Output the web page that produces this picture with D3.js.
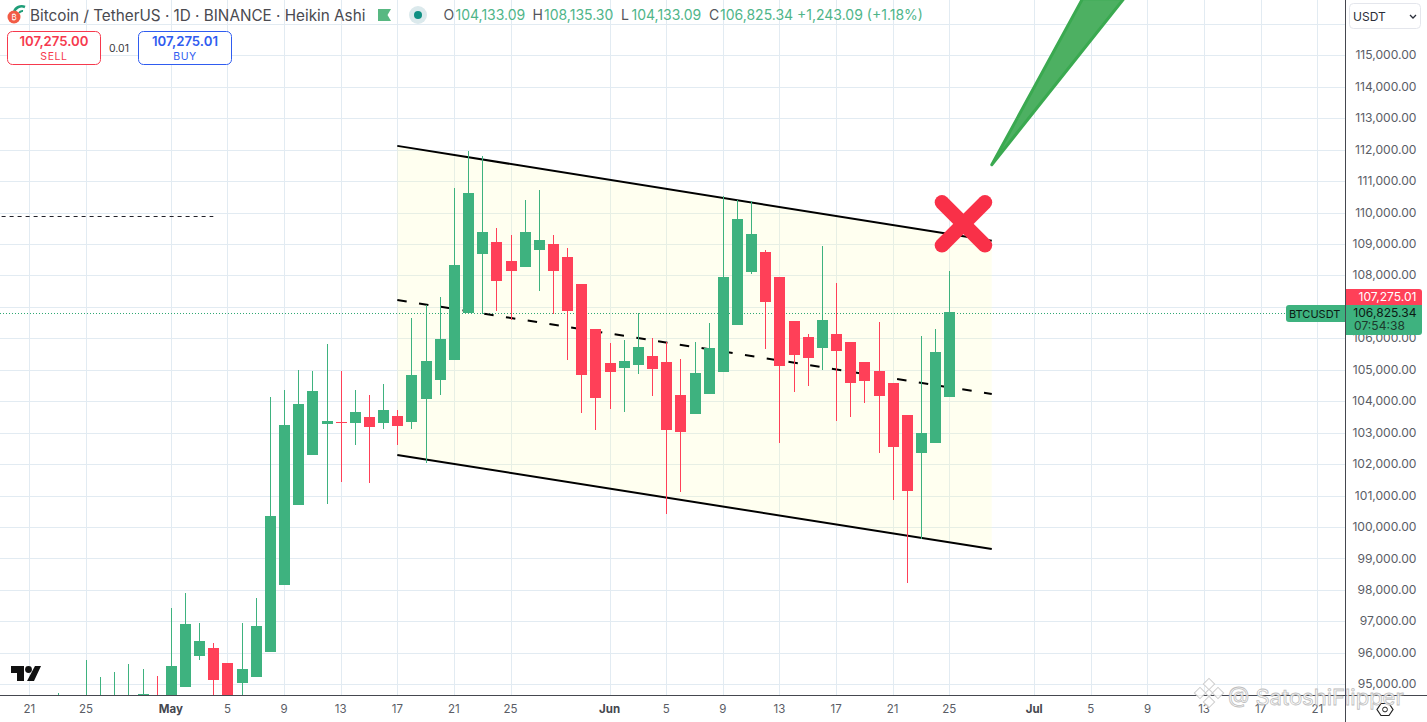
<!DOCTYPE html>
<html><head><meta charset="utf-8">
<script src="https://cdn.jsdelivr.net/npm/d3@7/dist/d3.min.js"></script>
<style>html,body{margin:0;padding:0;background:#fff;overflow:hidden}svg{display:block}text{font-family:Inter,"Noto Sans",sans-serif}</style>
</head><body><svg id="c" width="1427" height="722"></svg>
<script>
// ---- Heikin Ashi daily candles ----
const dates=["2025-04-23","2025-04-24","2025-04-25","2025-04-26","2025-04-27","2025-04-28","2025-04-29","2025-04-30",
"2025-05-01","2025-05-02","2025-05-03","2025-05-04","2025-05-05","2025-05-06","2025-05-07","2025-05-08","2025-05-09","2025-05-10","2025-05-11","2025-05-12","2025-05-13","2025-05-14","2025-05-15","2025-05-16","2025-05-17","2025-05-18","2025-05-19","2025-05-20","2025-05-21","2025-05-22","2025-05-23","2025-05-24","2025-05-25","2025-05-26","2025-05-27","2025-05-28","2025-05-29","2025-05-30","2025-05-31",
"2025-06-01","2025-06-02","2025-06-03","2025-06-04","2025-06-05","2025-06-06","2025-06-07","2025-06-08","2025-06-09","2025-06-10","2025-06-11","2025-06-12","2025-06-13","2025-06-14","2025-06-15","2025-06-16","2025-06-17","2025-06-18","2025-06-19","2025-06-20","2025-06-21","2025-06-22","2025-06-23","2025-06-24","2025-06-25"];
const opens=[93300,93600,93500,94100,94300,94400,94400,94500,
94180,94920,95900,96150,95680,95050,95230,96030,98160,100700,102290,103280,103350,103310,103500,103310,103530,103340,104070,104680,105310,106810,108680,109060,108460,108270,108810,109000,108590,107730,106300,
105220,105060,105150,105440,105250,104200,103600,104230,104930,106430,108110,108750,107950,106550,106040,105700,106140,105880,105250,104960,104580,103560,102360,102670,104133.09];
const closes=[94000,94300,94400,94600,94500,94600,94700,94300,
95580,96920,96380,95140,94600,95490,96850,100350,103250,103910,104330,103370,103310,103660,103180,103720,103210,104840,105280,105980,108330,110620,109380,107820,108140,109380,109130,108140,106870,104840,104100,
104930,105280,105730,105030,103090,103020,104900,105700,107950,109800,109320,107160,105120,105470,105380,106590,105600,104580,104650,104170,102550,101150,102990,105570,106825.34];
const highs=[94720,94500,95770,95240,95400,95650,95490,95260,
97430,97900,96950,96310,95680,96950,97750,104140,104360,105000,104960,105820,104960,104360,104200,104550,103720,106650,107060,107320,110780,111960,111800,109510,109290,110400,110720,109290,108880,107730,106300,
105850,105950,106810,106010,105880,105340,105880,106490,110530,110400,110370,108810,107950,106550,106140,108940,107760,105880,105250,106520,104580,103560,106080,106300,108135.30];
const lows=[92900,93200,93000,93800,93500,93300,93900,92900,
93900,94920,95770,94500,94300,94500,95230,96030,98160,100700,102290,100730,101430,102610,101400,103120,102610,103120,102040,104200,105310,106810,106780,106870,106590,108270,107510,106780,105310,103630,103090,
103750,103660,104870,104170,100420,101120,103600,104230,104930,106430,108050,105660,102670,104300,104490,105000,103370,103500,103950,102360,100860,98220,99620,102670,104133.09];

// ---- axes ----
const priceTicks=[95000,96000,97000,98000,99000,100000,101000,102000,103000,104000,105000,106000,107000,108000,109000,110000,111000,112000,113000,114000,115000,116000];
const hiddenPriceLabels=[107000,116000];
const timeTicks=[["2025-04-21","21"],["2025-04-25","25"],["2025-05-01","May"],["2025-05-05","5"],["2025-05-09","9"],["2025-05-13","13"],["2025-05-17","17"],["2025-05-21","21"],["2025-05-25","25"],["2025-06-01","Jun"],["2025-06-05","5"],["2025-06-09","9"],["2025-06-13","13"],["2025-06-17","17"],["2025-06-21","21"],["2025-06-25","25"],["2025-07-01","Jul"],["2025-07-05","5"],["2025-07-09","9"],["2025-07-13","13"],["2025-07-17","17"],["2025-07-21","21"]];

// ---- drawings: date / price anchors ----
const channelDates=["2025-05-17","2025-06-28"];
const channelUpper=[112120,109100];
const channelMiddle=[107220,104230];
const channelLower=[102290,99300];
const oldLevelDates=["2025-04-10","2025-05-04"];
const oldLevelPrice=109890;
const arrowDates=["2025-06-28","2025-07-04T10:00:00Z","2025-07-07T08:00:00Z"];
const arrowPrices=[111520,116800,116800];
const crossDate="2025-06-26", crossPrice=109640;
const lastPrice=106825.34, sellPrice=107275.01;
const lastPriceLabels=["106,825.34","07:54:38"];
const ohlcLegend=[["O","104,133.09"],["H","108,135.30"],["L","104,133.09"],["C","106,825.34"]];

const up="#3eb27f",down="#ff4058",grid="#e2ebf2",ink="#3d3d45";
const parse=d=>new Date(d.length>10?d:d+"T00:00:00Z");
const W=1427,H=722,plotR=1345,plotB=695;
const x=d3.scaleUtc().domain([parse("2025-04-21"),parse("2025-06-25")]).range([29.3,949.3]);
const y=d3.scaleLinear().domain([95000,115000]).range([684.3,55.3]);
const svg=d3.select("#c");
svg.append("defs").append("clipPath").attr("id","plot").append("rect").attr("x",0).attr("y",0).attr("width",plotR).attr("height",plotB);
const plot=svg.append("g").attr("clip-path","url(#plot)");

// grid
plot.append("g").selectAll("line").data(priceTicks).join("line")
 .attr("x1",0).attr("x2",plotR).attr("y1",d=>Math.round(y(d))+.5).attr("y2",d=>Math.round(y(d))+.5)
 .attr("stroke",grid).attr("stroke-width",1);
plot.append("g").selectAll("line").data(timeTicks).join("line")
 .attr("y1",0).attr("y2",plotB).attr("x1",d=>Math.round(x(parse(d[0])))+.5).attr("x2",d=>Math.round(x(parse(d[0])))+.5)
 .attr("stroke",grid).attr("stroke-width",1);

// channel fill
const cx=channelDates.map(d=>x(parse(d)));
plot.append("path").attr("d",d3.line()([[cx[0],y(channelUpper[0])],[cx[1],y(channelUpper[1])],[cx[1],y(channelLower[1])],[cx[0],y(channelLower[0])]])+"Z")
 .attr("fill","#ffffb4").attr("fill-opacity",.2);

// last price dotted line
plot.append("line").attr("x1",0).attr("x2",plotR).attr("y1",Math.ceil(y(lastPrice))+.5).attr("y2",Math.ceil(y(lastPrice))+.5)
 .attr("stroke","#2fa873").attr("stroke-dasharray","1 2").attr("shape-rendering","crispEdges");

// channel lines (below the candles)
const seg=(vals)=>d3.line()(cx.map((c,i)=>[c,y(vals[i])]));
plot.append("path").attr("d",seg(channelUpper)).attr("stroke","#000").attr("stroke-width",2).attr("fill","none");
plot.append("path").attr("d",seg(channelLower)).attr("stroke","#000").attr("stroke-width",2).attr("fill","none");
plot.append("path").attr("d",seg(channelMiddle)).attr("stroke","#000").attr("stroke-width",2).attr("stroke-dasharray","9.5 12.5").attr("fill","none");

// candles
const candles=dates.map((d,i)=>({d:parse(d),o:opens[i],h:highs[i],l:lows[i],c:closes[i]}));
const bw=11;
const g=plot.append("g").selectAll("g").data(candles).join("g").attr("shape-rendering","crispEdges");
g.append("line").attr("x1",d=>Math.round(x(d.d))+.5).attr("x2",d=>Math.round(x(d.d))+.5)
 .attr("y1",d=>y(d.h)).attr("y2",d=>y(d.l)).attr("stroke",d=>d.c>=d.o?up:down);
g.append("rect").attr("x",d=>Math.round(x(d.d))-5).attr("width",bw)
 .attr("y",d=>y(Math.max(d.o,d.c))).attr("height",d=>Math.max(1,Math.abs(y(d.o)-y(d.c))))
 .attr("fill",d=>d.c>=d.o?up:down);

// old level dashed
plot.append("line").attr("x1",x(parse(oldLevelDates[0]))).attr("x2",x(parse(oldLevelDates[1]))).attr("y1",Math.round(y(oldLevelPrice))+.5).attr("y2",Math.round(y(oldLevelPrice))+.5)
 .attr("stroke","#22222a").attr("stroke-width",1.2).attr("stroke-dasharray","4 4");

// green arrow
plot.append("path").attr("d",d3.line()(arrowDates.map((d,i)=>[x(parse(d)),y(arrowPrices[i])]))+"Z")
 .attr("fill","#4db062").attr("stroke","#3aa950").attr("stroke-width",3).attr("stroke-linejoin","round");

// red cross
const crossG=svg.append("g").attr("transform",`translate(${x(parse(crossDate))},${y(crossPrice)})`);
[[-21.5,-21.5,21.5,21.5],[-21.5,21.5,21.5,-21.5]].forEach(s=>crossG.append("line").attr("x1",s[0]).attr("y1",s[1]).attr("x2",s[2]).attr("y2",s[3])
 .attr("stroke","#f93048").attr("stroke-width",14.5).attr("stroke-linecap","round"));

// TradingView mark
const tv=svg.append("g").attr("fill","#111");
tv.append("path").attr("d","M11,666H24V681H17V673H11Z");
tv.append("circle").attr("cx",28.5).attr("cy",669.5).attr("r",3.4);
tv.append("path").attr("d","M35,666H41L34,681H27Z");

// axis lines
svg.append("line").attr("x1",0).attr("x2",W).attr("y1",695.5).attr("y2",695.5).attr("stroke","#45474f");
svg.append("line").attr("x1",1345.5).attr("x2",1345.5).attr("y1",0).attr("y2",H).attr("stroke","#45474f");

// time labels
svg.append("g").selectAll("text").data(timeTicks).join("text")
 .attr("x",d=>x(parse(d[0]))).attr("y",713).attr("text-anchor","middle").attr("font-size",11.5)
 .attr("font-weight",d=>/[A-Z]/.test(d[1])?700:400).attr("fill",d=>/[A-Z]/.test(d[1])?"#45474f":"#5a5d66").text(d=>d[1]);

// price labels
svg.append("g").selectAll("text").data(priceTicks.filter(p=>!hiddenPriceLabels.includes(p))).join("text")
 .attr("x",1416.5).attr("y",d=>y(d)+4).attr("text-anchor","end").attr("font-size",12.1).attr("fill","#5a5d66")
 .text(d=>d3.format(",.2f")(d));

// currency button
svg.append("rect").attr("x",1349.5).attr("y",3.5).attr("width",71).attr("height",25).attr("rx",4).attr("fill","#fff").attr("stroke","#e4e6ec");
svg.append("text").attr("x",1353).attr("y",20.5).attr("font-size",12).attr("fill","#2a2e39").text("USDT");
svg.append("path").attr("d","M1410,15l3,3l3,-3").attr("fill","none").attr("stroke","#2a2e39").attr("stroke-width",1.3);

// price badges
svg.append("path").attr("d","M1346,289H1419a3,3 0 0 1 3,3V305H1346Z").attr("fill",down);
svg.append("text").attr("x",1416.5).attr("y",301).attr("text-anchor","end").attr("font-size",12.1).attr("fill","#fff").text(d3.format(",.2f")(sellPrice));
svg.append("path").attr("d","M1346,305H1422V332a3,3 0 0 1 -3,3H1346Z").attr("fill",up);
svg.append("text").attr("x",1416.5).attr("y",316.5).attr("text-anchor","end").attr("font-size",12.1).attr("fill","#0c1a14").text(lastPriceLabels[0]);
svg.append("text").attr("x",1354).attr("y",330).attr("font-size",12.1).attr("fill","#1c3a2c").text(lastPriceLabels[1]);
svg.append("path").attr("d","M1345,305H1289a3,3 0 0 0 -3,3V319a3,3 0 0 0 3,3H1345Z").attr("fill",up);
svg.append("text").attr("x",1289).attr("y",317.5).attr("font-size",11).attr("fill","#0c1a14").text("BTCUSDT");

// legend header
const ic=svg.append("g");
ic.append("path").attr("d","M14,12a8,8 0 0 1 11,-5").attr("fill","none").attr("stroke","#1f9d78").attr("stroke-width",2.5);
ic.append("path").attr("d","M19,13a4,4 0 0 1 4,-2").attr("fill","none").attr("stroke","#1f9d78").attr("stroke-width",2);
ic.append("circle").attr("cx",14).attr("cy",17).attr("r",6.5).attr("fill","#f25c46");
ic.append("text").attr("x",14).attr("y",20).attr("text-anchor","middle").attr("font-size",8).attr("fill","#fff").text("₿");
svg.append("text").attr("x",30).attr("y",21).attr("font-size",15.28).attr("fill","#4a4a50").text("Bitcoin / TetherUS · 1D · BINANCE · Heikin Ashi");
svg.append("path").attr("d","M378,9H391L387.5,15L391,21H378Z").attr("fill","#58b882");
svg.append("circle").attr("cx",418).attr("cy",15).attr("r",9).attr("fill","#dbe9ec");
svg.append("circle").attr("cx",418).attr("cy",15).attr("r",4).attr("fill","#0f8f82");
const ohlcX=[[443.5,455.5],[532.5,544],[621,631.5],[709,720]];
ohlcLegend.forEach((e,i)=>{
 svg.append("text").attr("x",ohlcX[i][0]).attr("y",20).attr("font-size",14).attr("fill","#55565c").text(e[0]);
 svg.append("text").attr("x",ohlcX[i][1]).attr("y",20).attr("font-size",14).attr("fill","#4fb589").text(e[1]);
});
svg.append("text").attr("x",797).attr("y",20).attr("font-size",14).attr("fill","#4fb589").text("+1,243.09 (+1.18%)");

// buy / sell
const box=(bx,w,col,v,lab)=>{
 svg.append("rect").attr("x",bx+.5).attr("y",31.5).attr("width",w).attr("height",33).attr("rx",5).attr("fill","#fff").attr("stroke",col);
 svg.append("text").attr("x",bx+w/2+.5).attr("y",46).attr("text-anchor","middle").attr("font-size",13.2).attr("font-weight",600).attr("fill",col).text(v);
 svg.append("text").attr("x",bx+w/2+.5).attr("y",60).attr("text-anchor","middle").attr("font-size",10.5).attr("letter-spacing",.6).attr("fill",col).text(lab);
};
box(7,93,"#f6394d","107,275.00","SELL");
box(138,93,"#2f5cf0","107,275.01","BUY");
svg.append("text").attr("x",119).attr("y",52).attr("text-anchor","middle").attr("font-size",10.5).attr("fill","#3a3a40").text("0.01");

// gear
svg.append("path").attr("d","M1381,703.5h8l4,6l-4,6h-8l-4,-6Z").attr("fill","#fff").attr("stroke","#222").attr("stroke-width",1.2);
svg.append("circle").attr("cx",1385).attr("cy",709.5).attr("r",2.4).attr("fill","none").attr("stroke","#222");

// watermark
const wm=svg.append("g").attr("opacity",.9);
[[1209,684,4],[1200,693,4],[1218,693,4],[1209,702,4],[1209,693,2.6]].forEach(r=>{
 wm.append("rect").attr("x",r[0]-r[2]).attr("y",r[1]-r[2]).attr("width",r[2]*2).attr("height",r[2]*2)
  .attr("transform",`rotate(45 ${r[0]} ${r[1]})`).attr("fill","#fff").attr("stroke","#c9c9c9");
});
wm.append("text").attr("x",1228).attr("y",705).attr("font-size",22).attr("fill","#fff").attr("stroke","#b8b8b8").attr("stroke-width",.8).text("@ SatoshiFlipper");
</script></body></html>
